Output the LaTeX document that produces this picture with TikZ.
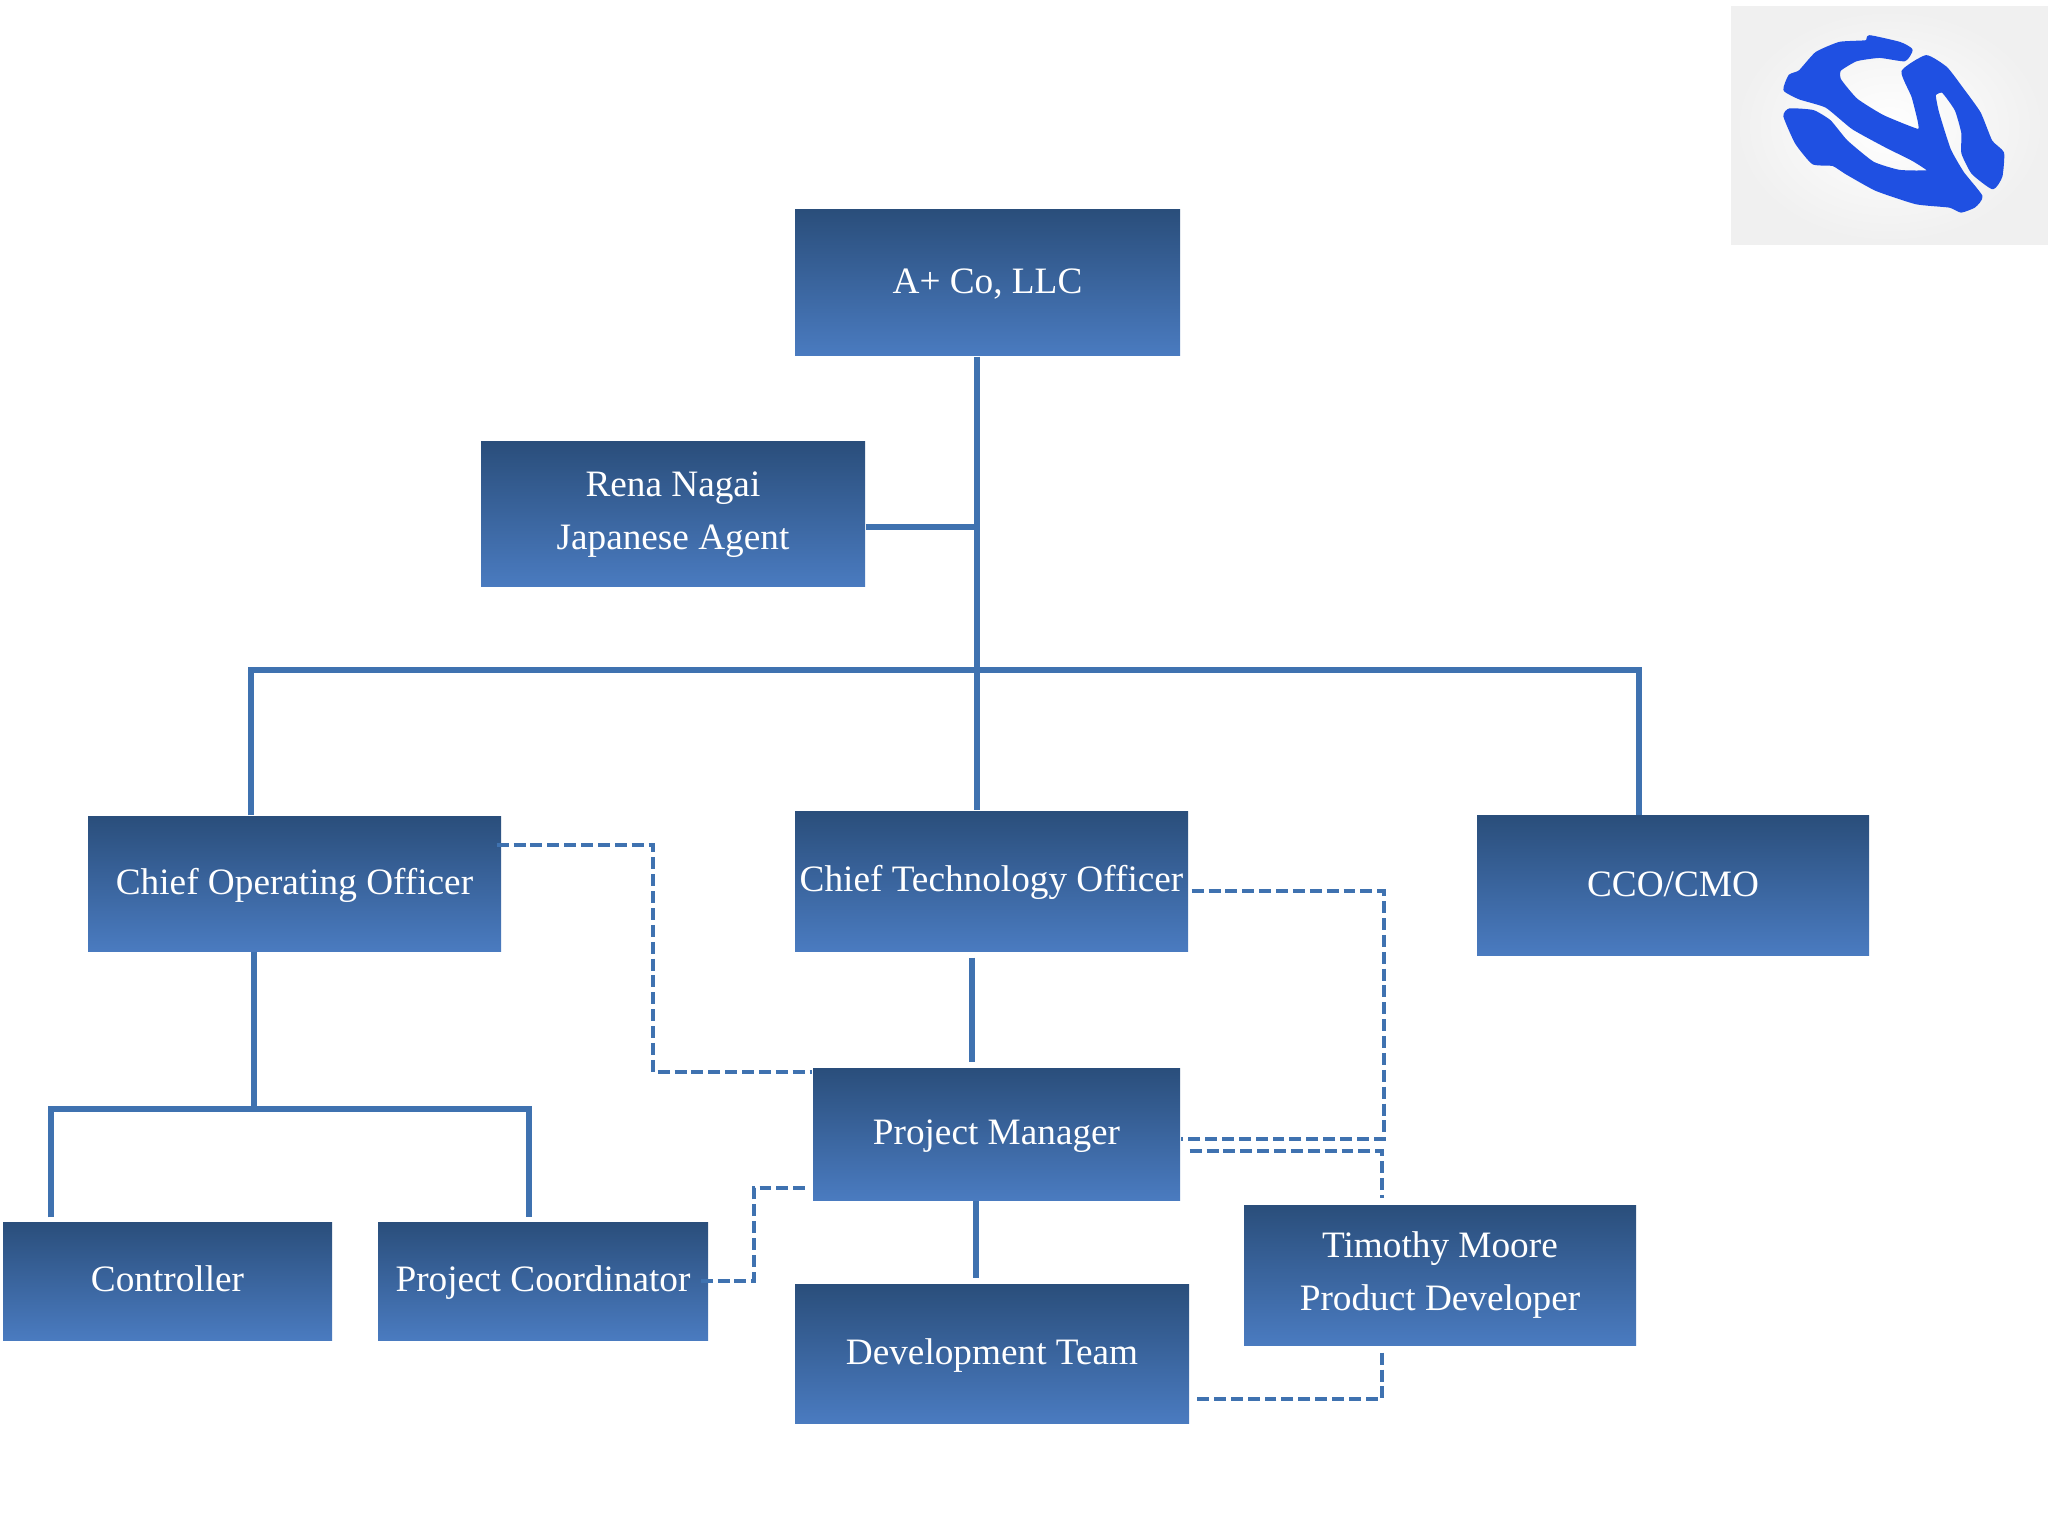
\documentclass[tikz,border=0pt]{standalone}
\usepackage{fontspec}
\setmainfont{Liberation Serif}
\definecolor{boxtop}{HTML}{2A4E7B}
\definecolor{boxbottom}{HTML}{4A7BC0}
\definecolor{linkblue}{HTML}{3F72B0}
\definecolor{logoblue}{HTML}{1F50E2}
\tikzset{
  orgbox/.style={rectangle, top color=boxtop, bottom color=boxbottom, text=white, align=center, inner sep=0pt, font=\fontsize{10.6}{15.2}\selectfont},
  onelinebox/.style={orgbox, execute at begin node=\strut},
  reportline/.style={draw=linkblue, line width=1.85pt},
  dottedline/.style={draw=linkblue, line width=1.2pt, dash pattern=on 3.4pt off 1.4pt}
}
\begin{document}
\begin{tikzpicture}
\useasboundingbox (0,0) rectangle (20.48,-15.36);
% logo
\path[inner color=white, outer color=black!6] (17.31,-0.07) rectangle (20.48,-2.45);
\begin{scope}[shift={(17,0)}, x=0.003333cm, y=-0.003333cm]
\filldraw[fill=logoblue, draw=logoblue, line width=0.8pt, line join=round] plot[smooth cycle, tension=0.3] coordinates {(255,270) (270,228) (300,215) (350,160) (420,130) (500,125) (510,110) (600,130) (635,150) (615,180) (540,170) (470,180) (420,210) (420,240) (470,300) (550,350) (655,392) (660,370) (640,290) (610,215) (680,170) (740,205) (790,270) (840,340) (875,425) (910,460) (905,530) (880,565) (820,520) (790,460) (790,400) (770,330) (730,275) (705,285) (715,340) (750,450) (790,520) (845,590) (825,620) (785,635) (750,620) (650,610) (530,570) (440,520) (400,495) (340,490) (290,430) (255,350) (270,330) (340,335) (390,365) (440,425) (520,490) (600,515) (690,515) (640,480) (560,440) (460,385) (380,320) (300,295)};
\end{scope}
% boxes
\node[onelinebox, minimum width=3.85cm, minimum height=1.46cm] (company) at (9.875,-2.83) {A+ Co, LLC};
\node[orgbox, minimum width=3.84cm, minimum height=1.45cm] (agent) at (6.73,-5.145) {Rena Nagai\\Japanese Agent};
\node[onelinebox, minimum width=4.13cm, minimum height=1.35cm] (coo) at (2.945,-8.835) {Chief Operating Officer};
\node[onelinebox, minimum width=3.93cm, minimum height=1.40cm] (cto) at (9.915,-8.81) {Chief Technology Officer};
\node[onelinebox, minimum width=3.92cm, minimum height=1.39cm] (cco) at (16.73,-8.855) {CCO/CMO};
\node[onelinebox, minimum width=3.67cm, minimum height=1.32cm] (pm) at (9.965,-11.34) {Project Manager};
\node[onelinebox, minimum width=3.29cm, minimum height=1.18cm] (controller) at (1.675,-12.81) {Controller};
\node[onelinebox, minimum width=3.30cm, minimum height=1.18cm] (coordinator) at (5.43,-12.81) {Project Coordinator};
\node[onelinebox, minimum width=3.94cm, minimum height=1.39cm] (devteam) at (9.92,-13.535) {Development Team};
\node[orgbox, minimum width=3.92cm, minimum height=1.40cm] (developer) at (14.40,-12.75) {Timothy Moore\\Product Developer};
% solid lines
\coordinate (bus) at (9.77,-6.70);
\coordinate (busleft) at (2.51,-6.70);
\coordinate (busright) at (16.39,-6.70);
\coordinate (agentjoin) at (9.77,-5.27);
\coordinate (ctostub) at (9.72,-10.62);
\coordinate (coojoin) at (2.54,-11.09);
\coordinate (joinleft) at (0.51,-11.09);
\coordinate (joinright) at (5.29,-11.09);
\coordinate (pmstub) at (9.76,-12.78);
\draw[reportline] (bus |- company.south) -- (bus |- cto.north);
\draw[reportline] (agentjoin -| agent.east) -- (agentjoin);
\draw[reportline] (busleft |- coo.north) -- (busleft) -- (busright) -- (busright |- cco.north);
\draw[reportline] ([yshift=-0.06cm]ctostub |- cto.south) -- (ctostub);
\draw[reportline] (coojoin |- coo.south) -- (coojoin);
\draw[reportline] ([yshift=0.04cm]joinleft |- controller.north) -- (joinleft) -- (joinright) -- ([yshift=0.04cm]joinright |- coordinator.north);
\draw[reportline] (pmstub |- pm.south) -- (pmstub);
% dashed lines
\coordinate (coodash) at (6.53,-8.45);
\coordinate (pmdash) at (6.53,-10.72);
\draw[dottedline] ([xshift=-0.05cm]coo.east |- coodash) -- (coodash) -- (pmdash) -- (pmdash -| pm.west);
\coordinate (ctodash) at (13.84,-8.91);
\coordinate (pmback) at (13.84,-11.39);
\draw[dottedline] ([xshift=0.03cm]cto.east |- ctodash) -- (ctodash) -- (pmback) -- (pmback -| pm.east);
\coordinate (devdash) at (13.82,-11.51);
\draw[dottedline] (devdash -| devteam.east) -- (devdash) -- ([yshift=0.06cm]devdash |- developer.north);
\coordinate (teamdash) at (13.82,-13.99);
\draw[dottedline] ([yshift=-0.07cm]teamdash |- developer.south) -- (teamdash) -- ([xshift=0.07cm]teamdash -| devteam.east);
\coordinate (coorddash) at (7.54,-12.81);
\coordinate (coordup) at (7.54,-11.88);
\draw[dottedline] ([xshift=-0.08cm]coordinator.east) -- (coorddash) -- (coordup) -- ([xshift=-0.03cm]coordup -| pm.west);
\end{tikzpicture}
\end{document}
